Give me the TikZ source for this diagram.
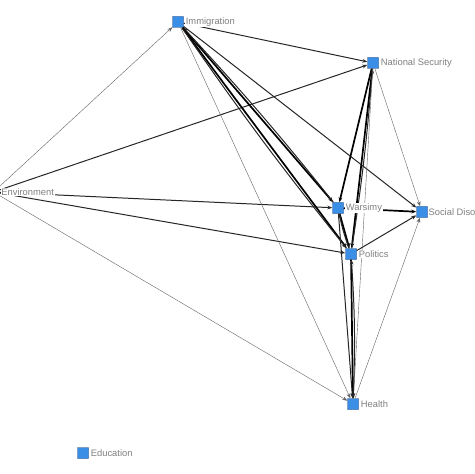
\documentclass[tikz,border=0pt]{standalone}
\usepackage{fontspec}
\setmainfont{Liberation Sans}
\usetikzlibrary{positioning,arrows.meta}
\definecolor{nblue}{HTML}{3A8EE6}
\definecolor{nedge}{HTML}{1D3F73}

\begin{document}
\begin{tikzpicture}[x=0.3mm, y=-0.3mm, >={Stealth[length=4.2pt,width=3.2pt]}, node distance=0.4mm,
   sq/.style={draw=nedge, fill=nblue, line width=0.4pt, minimum size=3.3mm, inner sep=0pt, rounded corners=0.4pt},
   lab/.style={font=\fontsize{8}{9}\selectfont, text=black!50, fill=white, inner sep=0.5pt},
   e1/.style={->, draw=black!60, line width=0.35pt},
   e2/.style={->, draw=black!85, line width=0.85pt},
   e3/.style={->, draw=black, line width=1.45pt}]
  \useasboundingbox (0,0) rectangle (474,474);
  \clip (0,0) rectangle (474,474);
  \fill[white] (0,0) rectangle (474,474);
  % nodes
  \node[sq] (imm) at (178,22) {};
  \node[sq] (ns)  at (373,63) {};
  \node[sq] (env) at (-6.5,192) {};
  \node[sq] (war) at (338,208) {};
  \node[sq] (soc) at (422,212) {};
  \node[sq] (pol) at (351,254) {};
  \node[sq] (hea) at (353,404) {};
  \node[sq] (edu) at (83,453) {};
  % edges
  \draw[e1] (env) -- (imm);
  \draw[e2] (env) -- (ns);
  \draw[e2] (env) -- (war);
  \draw[e2] (env) -- (pol);
  \draw[e1] (env) -- (hea);
  \draw[e2] (imm) -- (ns);
  \draw[e3] (imm) -- (war);
  \draw[e2] (war) to[bend right=2] (imm);
  \draw[e3] (imm) -- (pol);
  \draw[e2] (imm) to[bend right=2] (pol);
  \draw[e2] (imm) -- (soc);
  \draw[e1] (imm) -- (hea);
  \draw[e3] (ns) -- (war);
  \draw[e3] (ns) -- (pol);
  \draw[e2] (pol) to[bend right=2] (ns);
  \draw[e1] (ns) -- (soc);
  \draw[e1] (ns) -- (hea);
  \draw[e3] (war) -- (soc);
  \draw[e3] (war) -- (pol);
  \draw[e2] (pol) to[bend left=4] (war);
  \draw[e2] (pol) -- (soc);
  \draw[e3] (pol) -- (hea);
  \draw[e2] (hea) to[bend right=3] (pol);
  \draw[e2] (war) -- (hea);
  \draw[e1] (hea) -- (soc);
  % labels
  \node[lab, right=of imm] (immlab) {Immigration};
  \node[lab, right=of ns]  (nslab)  {National Security};
  \node[lab, right=of env] (envlab) {Environment};
  \node[lab, right=of war] (warlab) {Warsimy};
  \node[lab, right=0mm of soc] (soclab) {Social Diso};
  \node[lab, right=of pol] (pollab) {Politics};
  \node[lab, right=of hea] (healab) {Health};
  \node[lab, right=of edu] (edulab) {Education};
\end{tikzpicture}
\end{document}
